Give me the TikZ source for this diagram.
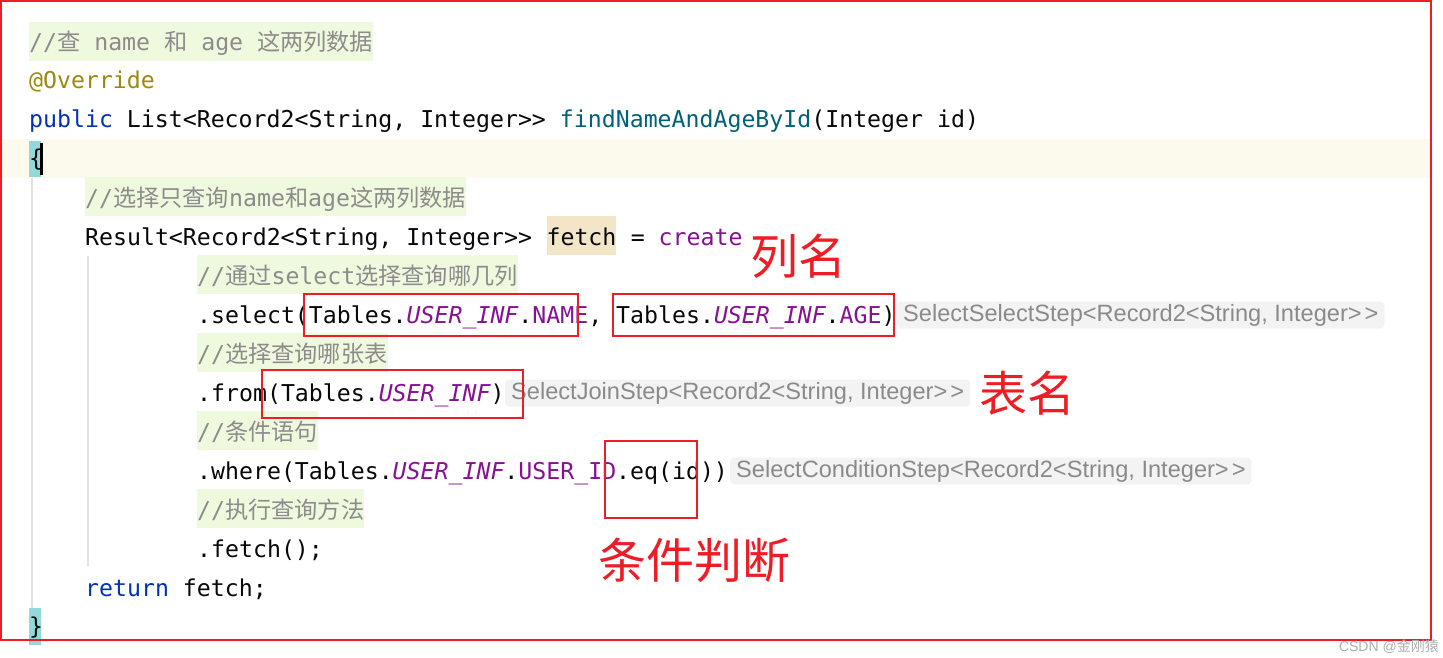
\documentclass[tikz,border=0pt]{standalone}
\usepackage{fontspec}
\setmonofont{DejaVu Sans Mono}
\setsansfont[Ligatures=NoCommon]{Liberation Sans}
\newfontfamily\cjk{Noto Sans CJK SC}
\definecolor{cmt}{HTML}{8C8C8C}
\definecolor{cmtbg}{HTML}{EFF9DE}
\definecolor{kw}{HTML}{0033B3}
\definecolor{fld}{HTML}{871094}
\definecolor{mth}{HTML}{00627A}
\definecolor{ann}{HTML}{9E880D}
\definecolor{txt}{HTML}{080808}
\definecolor{hintbg}{HTML}{F3F3F3}
\definecolor{hintfg}{HTML}{8A8A8A}
\definecolor{curl}{HTML}{FCFAED}
\definecolor{brbg}{HTML}{93D9D9}
\definecolor{fetchbg}{HTML}{F2E5C8}
\definecolor{guide}{HTML}{E2E2E2}
\definecolor{redc}{HTML}{EE1C25}
\newcommand{\C}[1]{{\cjk #1}}
\newcommand{\F}[1]{\textcolor{fld}{#1}}
\newcommand{\FI}[1]{\textcolor{fld}{\itshape #1}}
\newcommand{\GG}{>\kern3pt>}
\begin{document}
\begin{tikzpicture}[x=1pt,y=-1pt,
 code/.style={anchor=base west,inner sep=0pt,font=\fontsize{23.2}{23}\ttfamily,text=txt},
 cmtl/.style={code,text=cmt,fill=cmtbg,text height=29pt,text depth=10pt},
 hint/.style={anchor=west,inner xsep=6pt,inner ysep=0pt,minimum height=27pt,fill=hintbg,rounded corners=4pt,text=hintfg,font=\fontsize{23.6}{22}\sffamily},
 redbox/.style={draw=redc,line width=2pt},
 lbl/.style={text=redc,font=\fontsize{48}{48}\cjk,inner sep=0pt}]
\useasboundingbox (0,0) rectangle (1443,658);
\fill[white] (0,0) rectangle (1443,658);
\fill[curl] (0,139) rectangle (1431,178);
\draw[guide,line width=2pt] (32,178) -- (32,608);
\draw[guide,line width=1.5pt] (88,256) -- (88,566);
\node[cmtl] (l1) at (29,51) {//\C{查} name \C{和} age \C{这两列数据}};
\node[code,text=ann] (l2) at (29,89) {@Override};
\node[code] (l3) at (29,128) {\textcolor{kw}{public} List<Record2<String, Integer>> \textcolor{mth}{findNameAndAgeById}(Integer id)};
\fill[brbg] (29,141) rectangle (41,177);
\node[code] (l4) at (29,167) {\{};
\fill[black] (40,143) rectangle (43,175);
\node[cmtl] (l5) at (85,206) {//\C{选择只查询}name\C{和}age\C{这两列数据}};
\node[code] (l6a) at (85,245) {Result<Record2<String, Integer>>};
\node[code,fill=fetchbg,text height=29pt,text depth=10pt,xshift=14pt] (l6b) at (l6a.base east) {fetch};
\node[code,xshift=14pt] (l6c) at (l6b.base east) {= \F{create}};
\node[cmtl] (l7) at (197,284) {//\C{通过}select\C{选择查询哪几列}};
\node[code] (l8) at (197,323) {.select(Tables.\FI{USER\_INF}.\F{NAME}, Tables.\FI{USER\_INF}.\F{AGE})};
\node[hint] (h8) at (897,315) {SelectSelectStep<Record2<String, Integer\GG};
\node[cmtl] (l9) at (197,362) {//\C{选择查询哪张表}};
\node[code] (l10) at (197,401) {.from(Tables.\FI{USER\_INF})};
\node[hint] (h10) at (505,393) {SelectJoinStep<Record2<String, Integer\GG};
\node[cmtl] (l11) at (197,440) {//\C{条件语句}};
\node[code] (l12) at (197,479) {.where(Tables.\FI{USER\_INF}.\F{USER\_ID}.eq(id))};
\node[hint] (h12) at (730,471) {SelectConditionStep<Record2<String, Integer\GG};
\node[cmtl] (l13) at (197,518) {//\C{执行查询方法}};
\node[code] (l14) at (197,557) {.fetch();};
\node[code] (l15) at (85,596) {\textcolor{kw}{return} fetch;};
\fill[brbg] (29,608) rectangle (41,645);
\node[code] (l16) at (29,634) {\}};
\draw[redbox] (304,294) rectangle (578,336);
\draw[redbox] (613,294) rectangle (894,336);
\draw[redbox] (262,370) rectangle (523,418);
\draw[redbox] (605,441) rectangle (697,518);
\node[lbl] (a1) at (798,256) {列名};
\node[lbl] (a2) at (1027,393) {表名};
\node[lbl] (a3) at (694,560) {条件判断};
\draw[redc,line width=2.5pt] (1,1) rectangle (1431,640);
\node[anchor=south east,inner sep=2pt,text=cmt!70,font=\fontsize{14}{14}\sffamily] (wm) at (1441,656) {CSDN @\C{金刚猿}};
\end{tikzpicture}
\end{document}
